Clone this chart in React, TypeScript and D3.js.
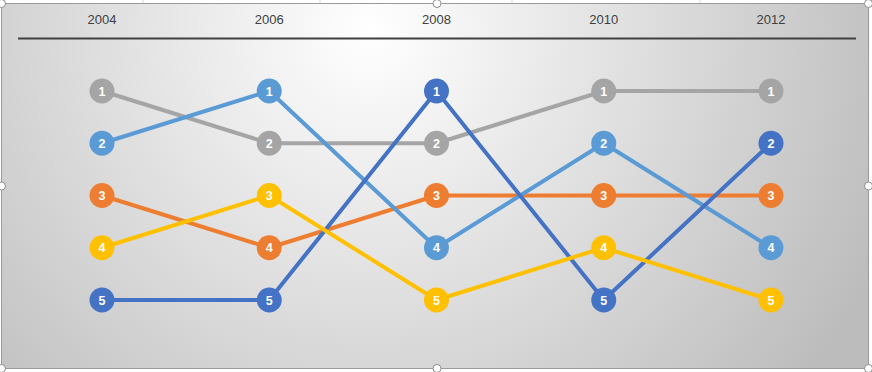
import React, { useEffect, useRef } from 'react';
import * as d3 from 'd3';

const years = ['2004', '2006', '2008', '2010', '2012'];
const ranks = [1, 2, 3, 4, 5];

// drawn in this order, last on top
const seriesNames = ['Grey', 'Orange', 'Light Blue', 'Dark Blue', 'Yellow'];
const seriesColors = ['#a5a5a5', '#ed7d31', '#5b9bd5', '#4472c4', '#ffc000'];
const greyRanks = [1, 2, 2, 1, 1];
const orangeRanks = [3, 4, 3, 3, 3];
const lightBlueRanks = [2, 1, 4, 2, 4];
const darkBlueRanks = [5, 5, 1, 5, 2];
const yellowRanks = [4, 3, 5, 4, 5];
const seriesRanks = [greyRanks, orangeRanks, lightBlueRanks, darkBlueRanks, yellowRanks];

const W = 872;
const H = 372;

export default function App() {
  const svgRef = useRef<SVGSVGElement>(null);

  useEffect(() => {
    if (!svgRef.current) return;
    const svg = d3.select(svgRef.current);
    svg.selectAll('*').remove();

    const defs = svg.append('defs');
    const grad = defs.append('radialGradient')
      .attr('id', 'bg')
      .attr('gradientUnits', 'userSpaceOnUse')
      .attr('cx', 370).attr('cy', 30).attr('r', 560);
    grad.append('stop').attr('offset', '0%').attr('stop-color', '#ffffff');
    grad.append('stop').attr('offset', '100%').attr('stop-color', '#bcbcbc');

    // sheet behind the chart
    svg.append('rect').attr('width', W).attr('height', H).attr('fill', '#ffffff');
    [143, 320, 512, 700].forEach(x => {
      svg.append('line').attr('x1', x).attr('x2', x).attr('y1', 0).attr('y2', 3)
        .attr('stroke', '#d4d4d4');
    });

    // chart area
    svg.append('rect')
      .attr('x', 1.5).attr('y', 3.5).attr('width', 867).attr('height', 365)
      .attr('fill', 'url(#bg)')
      .attr('stroke', '#9a9a9a').attr('stroke-width', 1);

    const x = d3.scalePoint<string>().domain(years).range([102, 771]);
    const y = d3.scaleLinear().domain([1, 5]).range([91, 300]);

    // top axis
    svg.append('line')
      .attr('x1', 18).attr('x2', 856).attr('y1', 38.5).attr('y2', 38.5)
      .attr('stroke', '#404040').attr('stroke-width', 2);
    svg.append('g').selectAll('text').data(years).join('text')
      .attr('x', d => x(d)!)
      .attr('y', 24)
      .attr('text-anchor', 'middle')
      .attr('font-family', '"Liberation Sans", Arial, sans-serif')
      .attr('font-size', 13)
      .attr('fill', '#404040')
      .text(d => d);

    const line = d3.line<number>()
      .x((_, i) => x(years[i])!)
      .y(d => y(d));

    const lines = svg.append('g');
    seriesRanks.forEach((vals, si) => {
      lines.append('path')
        .attr('d', line(vals)!)
        .attr('fill', 'none')
        .attr('stroke', seriesColors[si])
        .attr('stroke-width', 4)
        .attr('stroke-linejoin', 'round');
    });

    const marks = svg.append('g');
    seriesRanks.forEach((vals, si) => {
      const g = marks.append('g').attr('class', seriesNames[si]);
      vals.forEach((v, i) => {
        g.append('circle')
          .attr('cx', x(years[i])!)
          .attr('cy', y(v))
          .attr('r', 12.5)
          .attr('fill', seriesColors[si]);
        g.append('text')
          .attr('x', x(years[i])!)
          .attr('y', y(v) + 4.5)
          .attr('text-anchor', 'middle')
          .attr('font-family', '"Liberation Sans", Arial, sans-serif')
          .attr('font-size', 12.5)
          .attr('font-weight', 'bold')
          .attr('fill', '#ffffff')
          .text(String(ranks[v - 1]));
      });
    });

    // selection handles
    [[437, 3.5], [437, 368.5], [1.5, 186], [868.5, 186], [1.5, 3.5], [868.5, 3.5], [1.5, 368.5], [868.5, 368.5]]
      .forEach(([cx, cy]) => {
        svg.append('circle').attr('cx', cx).attr('cy', cy).attr('r', 4)
          .attr('fill', '#ffffff').attr('stroke', '#8c8c8c').attr('stroke-width', 1);
      });
  }, []);

  return (
    <div style={{ position: 'absolute', left: 0, top: 0, width: W, height: H }}>
      <svg ref={svgRef} width={W} height={H} style={{ display: 'block' }} />
    </div>
  );
}
